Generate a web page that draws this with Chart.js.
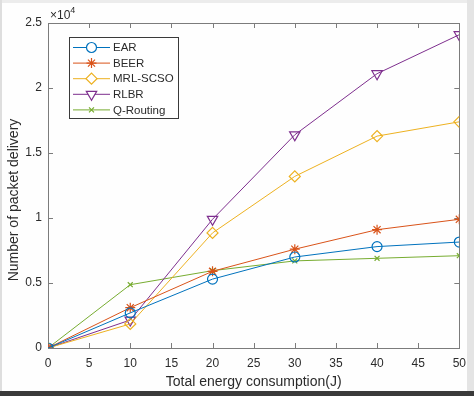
<!DOCTYPE html>
<html>
<head>
<meta charset="utf-8">
<script src="https://cdn.jsdelivr.net/npm/chart.js@4"></script>
<style>
  html, body { margin: 0; padding: 0; background: #fff; }
  #wrap { position: relative; width: 474px; height: 396px; overflow: hidden; background: #fefefe; }
  #wrap canvas { position: absolute; left: 0; top: 0; }
  .edge { position: absolute; }
</style>
</head>
<body>
<div id="wrap">
  <canvas id="chart" width="474" height="396"></canvas>
  <div class="edge" style="left:0;top:0;width:474px;height:3px;background:#ececec"></div>
  <div class="edge" style="left:0;top:0;width:2px;height:396px;background:#dedede"></div>
  <div class="edge" style="left:467px;top:0;width:7px;height:396px;background:#e4e4e4"></div>
  <div class="edge" style="left:0;top:391px;width:474px;height:5px;background:#3a3a3a"></div>
</div>
<script>
// Data (packet counts, y axis shown in units of 10^4)
const energy = [0, 10, 20, 30, 40, 50];
const ear = [0, 2700, 5300, 7000, 7800, 8150];
const beer = [0, 3100, 5900, 7600, 9100, 9900];
const mrlScso = [0, 1850, 8850, 13200, 16300, 17400];
const rlbr = [0, 2150, 9900, 16400, 21100, 24100];
const qRouting = [0, 4870, 5950, 6700, 6900, 7100];

const seriesNames = ["EAR", "BEER", "MRL-SCSO", "RLBR", "Q-Routing"];
const seriesData = [ear, beer, mrlScso, rlbr, qRouting];
const seriesColors = ["#0072BD", "#D95319", "#EDB120", "#7E2F8E", "#77AC30"];
const seriesMarkers = ["circle", "star", "rectRot", "triangle", "crossRot"];
const markerSizes = [5, 5, 5.5, 6, 3.5];
const markerRotation = [0, 0, 0, 180, 0];

const FONT = "Liberation Sans, Arial, Helvetica, sans-serif";
const AXIS_COLOR = "#7c7c7c";
const TEXT_COLOR = "#2b2b2b";

const datasets = seriesNames.map((name, i) => ({
  label: name,
  data: energy.map((x, j) => ({ x, y: seriesData[i][j] })),
  borderColor: seriesColors[i],
  backgroundColor: "transparent",
  borderWidth: 1,
  pointStyle: seriesMarkers[i],
  pointRadius: markerSizes[i],
  pointRotation: markerRotation[i],
  pointBorderWidth: 1.2,
  pointBackgroundColor: "transparent",
  pointBorderColor: seriesColors[i],
  tension: 0,
}));

// Box, inward ticks, legend, exponent label, axis titles
const matlabAxes = {
  id: "matlabAxes",
  beforeDatasetsDraw(chart) {
    const { ctx, chartArea: a, scales } = chart;
    ctx.save();
    ctx.strokeStyle = AXIS_COLOR;
    ctx.lineWidth = 1;
    ctx.strokeRect(Math.round(a.left) + 0.5, Math.round(a.top) + 0.5,
      Math.round(a.right - a.left), Math.round(a.bottom - a.top));
    const tl = 5;
    ctx.beginPath();
    scales.x.ticks.forEach(t => {
      const px = Math.round(scales.x.getPixelForValue(t.value)) + 0.5;
      ctx.moveTo(px, a.bottom); ctx.lineTo(px, a.bottom - tl);
      ctx.moveTo(px, a.top); ctx.lineTo(px, a.top + tl);
    });
    scales.y.ticks.forEach(t => {
      const py = Math.round(scales.y.getPixelForValue(t.value)) + 0.5;
      ctx.moveTo(a.left, py); ctx.lineTo(a.left + tl, py);
      ctx.moveTo(a.right, py); ctx.lineTo(a.right - tl, py);
    });
    ctx.stroke();

    // exponent label
    ctx.fillStyle = TEXT_COLOR;
    ctx.textBaseline = "alphabetic";
    ctx.textAlign = "left";
    ctx.font = "12px " + FONT;
    ctx.fillText("\u00d710", a.left + 2, a.top - 4);
    const w = ctx.measureText("\u00d710").width;
    ctx.font = "9px " + FONT;
    ctx.fillText("4", a.left + 2 + w, a.top - 10);

    // y title
    ctx.font = "14px " + FONT;
    ctx.textAlign = "center";
    ctx.textBaseline = "middle";
    ctx.translate(14, 200);
    ctx.rotate(-Math.PI / 2);
    ctx.fillText("Number of packet delivery", 0, 0);
    ctx.restore();

    // x title
    ctx.save();
    ctx.fillStyle = TEXT_COLOR;
    ctx.font = "14px " + FONT;
    ctx.textAlign = "center";
    ctx.textBaseline = "middle";
    ctx.fillText("Total energy consumption(J)", (a.left + a.right) / 2, 382);
    ctx.restore();
  },
  afterDatasetsDraw(chart) {
    const { ctx, chartArea: a } = chart;
    const bx = a.left + 21, by = a.top + 14, bw = 109, bh = 81, row = 15.6;
    ctx.save();
    ctx.fillStyle = "#fff";
    ctx.fillRect(bx, by, bw, bh);
    ctx.strokeStyle = "#3a3a3a";
    ctx.lineWidth = 1;
    ctx.strokeRect(bx + 0.5, by + 0.5, bw, bh);
    chart.data.datasets.forEach((ds, i) => {
      const cy = by + 10.5 + i * row;
      ctx.strokeStyle = ds.borderColor;
      ctx.lineWidth = 1;
      ctx.beginPath();
      ctx.moveTo(bx + 4, cy); ctx.lineTo(bx + 41, cy);
      ctx.stroke();
      ctx.fillStyle = "#fff";
      ctx.lineWidth = 1.2;
      Chart.helpers.drawPoint(ctx, {
        pointStyle: ds.pointStyle, radius: ds.pointRadius, rotation: ds.pointRotation,
        borderWidth: 1.2,
      }, bx + 22.5, cy);
      ctx.fillStyle = TEXT_COLOR;
      ctx.font = "11.5px " + FONT;
      ctx.textAlign = "left";
      ctx.textBaseline = "middle";
      ctx.fillText(ds.label, bx + 44, cy + 0.5);
    });
    ctx.restore();
  },
};

new Chart(document.getElementById("chart"), {
  type: "line",
  data: { datasets },
  options: {
    responsive: false,
    animation: false,
    devicePixelRatio: 1,
    layout: { padding: { top: 23, right: 14, left: 0, bottom: 0 } },
    plugins: { legend: { display: false }, tooltip: { enabled: false } },
    scales: {
      x: {
        type: "linear", min: 0, max: 50,
        ticks: { stepSize: 5, color: TEXT_COLOR, font: { size: 12, family: FONT }, padding: 8, maxRotation: 0 },
        grid: { display: false, drawTicks: false, tickLength: 0 }, border: { display: false },
        afterFit: s => { s.height = 48; },
      },
      y: {
        min: 0, max: 25000,
        ticks: { stepSize: 5000, color: TEXT_COLOR, font: { size: 12, family: FONT }, padding: 6,
          callback: v => String(v / 10000) },
        grid: { display: false, drawTicks: false, tickLength: 0 }, border: { display: false },
        afterFit: s => { s.width = 48; },
      },
    },
  },
  plugins: [matlabAxes],
});
</script>
</body>
</html>
